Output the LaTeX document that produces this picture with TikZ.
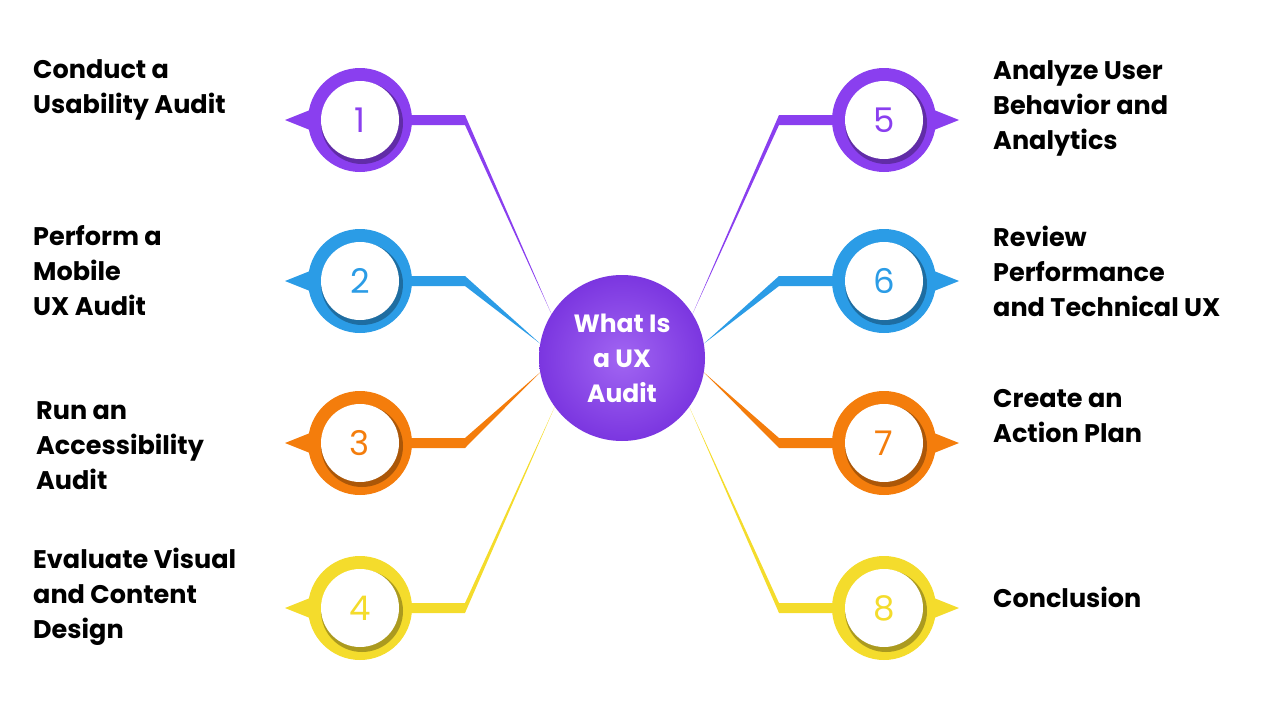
\documentclass[tikz,border=0pt]{standalone}
\usepackage{fontspec}
\setmainfont{Poppins}
\usetikzlibrary{positioning}

\definecolor{cpurple}{HTML}{8A3FEF}
\definecolor{cblue}{HTML}{2B9CE6}
\definecolor{corange}{HTML}{F47D0C}
\definecolor{cyellow}{HTML}{F4DC2C}
\definecolor{chub}{HTML}{7B36E0}

\tikzset{
  ring/.style={circle, fill=#1, minimum size=104pt, inner sep=0pt},
  face/.style={circle, fill=white, minimum size=78pt, inner sep=0pt, text=#1,
    font=\fontsize{34}{34}\selectfont},
  label/.style={align=left, font=\bfseries\fontsize{25.5}{35}\selectfont, text=black, inner sep=0pt},
}

\begin{document}
\begin{tikzpicture}[x=1pt, y=-1pt]
\useasboundingbox (0,0) rectangle (1280,720);

% hub
\node [circle, inner color=cpurple!80!white, outer color=chub, minimum size=166pt,
  text=white, align=center, font=\bfseries\fontsize{25}{35}\selectfont] (hub) at (622,358)
  {What Is\\a UX\\Audit};

% left and right items
\foreach \n/\x/\y/\col/\ang/\s in {1/360/120/cpurple/148/1, 2/360/281/cblue/170/1,
    3/360/443/corange/190/1, 4/360/608/cyellow/216/1,
    5/884/120/cpurple/32/-1, 6/884/281/cblue/10/-1,
    7/884/443/corange/-10/-1, 8/884/608/cyellow/-36/-1} {
  \coordinate (k\n) at (\x+\s*105,\y);
  \coordinate (p\n) at (\x-\s*75,\y);
  \fill [\col] (p\n) -- (\x-\s*40,\y-14) -- (\x-\s*40,\y+14) -- cycle;
  \node [ring=\col] (r\n) at (\x,\y) {};
  \fill [\col] ([yshift=-5pt]r\n.center) -- ([yshift=-5pt]k\n) -- (hub.\ang)
    -- ([yshift=5pt]k\n) -- ([yshift=5pt]r\n.center) -- cycle;
  \fill [\col!70!black] (\x+2,\y+3) circle (41);
  \node [face=\col] (c\n) at (\x,\y) {\n};
}

% texts
\node [label, anchor=west] (t1) at (33,90) {Conduct a\\Usability Audit};
\node [label, anchor=west] (t2) at (33,271) {Perform a\\Mobile\\UX Audit};
\node [label, anchor=west] (t3) at (36,446) {Run an\\Accessibility\\Audit};
\node [label, anchor=west] (t4) at (33,597) {Evaluate Visual\\and Content\\Design};
\node [label, anchor=west] (t5) at (993,108) {Analyze User\\Behavior and\\Analytics};
\node [label, anchor=west] (t6) at (993,271) {Review\\Performance\\and Technical UX};
\node [label, anchor=west] (t7) at (993,416) {Create an\\Action Plan};
\node [label, anchor=west] (t8) at (993,597) {Conclusion};
\end{tikzpicture}
\end{document}
